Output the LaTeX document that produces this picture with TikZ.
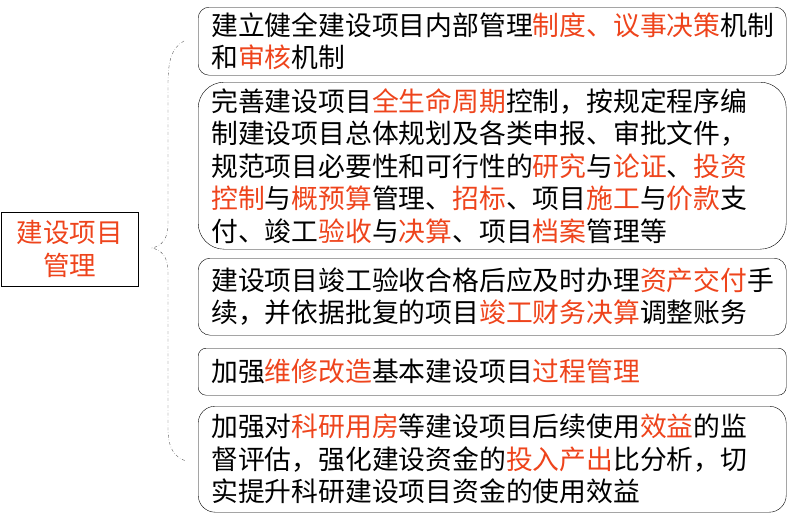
\documentclass[tikz,border=0pt]{standalone}
\usepackage{fontspec}
\setmainfont{Noto Sans CJK SC}
\usetikzlibrary{calc}

\definecolor{keyred}{RGB}{238,68,28}
\newcommand{\key}[1]{\textcolor{keyred}{#1}}

\begin{document}
\begin{tikzpicture}[x=1pt, y=-1pt,
		item/.style={draw, rounded corners=#1, anchor=north west, minimum width=588pt, text width=562pt, inner xsep=12.5pt, inner ysep=0pt, align=left, font=\fontsize{26.8}{32.5}\selectfont},
		topic/.style={draw, minimum width=137pt, minimum height=74pt, align=center, text=keyred, font=\fontsize{26.5}{33}\selectfont},
		bracket/.style={black!65, thin, dash dot}]
		%page size
		\useasboundingbox (0,0) rectangle (787,525);
		
		%definition of brace points
		\coordinate (brace top) at (184,41);
		\coordinate (brace tip) at (152,248);
		\coordinate (brace bottom) at (186,461);
		
		%left topic
		\node [topic] (mgmt) at (69.5,249) {建设项目\\管理};
		
		%brace
		\draw [bracket] (brace top) .. controls (171,48) and (168,62) .. (168,85) -- (168,224) .. controls (168,240) and (161,246) .. (brace tip)
			.. controls (161,250) and (168,256) .. (168,272) -- (168,428) .. controls (168,448) and (174,457) .. (brace bottom);
		
		%items
		\node [item=11pt, minimum height=68pt] (rules) at (198,7) {建立健全建设项目内部管理\key{制度、议事决策}机制\\和\key{审核}机制};
		
		\node [item=26pt, minimum height=167pt] (cycle) at (198,82) {完善建设项目\key{全生命周期}控制，按规定程序编\\制建设项目总体规划及各类申报、审批文件，\\规范项目必要性和可行性的\key{研究}与\key{论证}、\key{投资}\\\key{控制}与\key{概预算}管理、\key{招标}、项目\key{施工}与\key{价款}支\\付、竣工\key{验收}与\key{决算}、项目\key{档案}管理等};
		
		\node [item=12pt, minimum height=77pt] (assets) at (198,258) {建设项目竣工验收合格后应及时办理\key{资产交付}手\\续，并依据批复的项目\key{竣工财务决算}调整账务};
		
		\node [item=8pt, minimum height=47pt] (repair) at (198,348) {加强\key{维修改造}基本建设项目\key{过程管理}};
		
		\node [item=17pt, minimum height=106pt] (benefit) at (198,406) {加强对\key{科研用房}等建设项目后续使用\key{效益}的监\\督评估，强化建设资金的\key{投入产出}比分析，切\\实提升科研建设项目资金的使用效益};
	\end{tikzpicture}
\end{document}
